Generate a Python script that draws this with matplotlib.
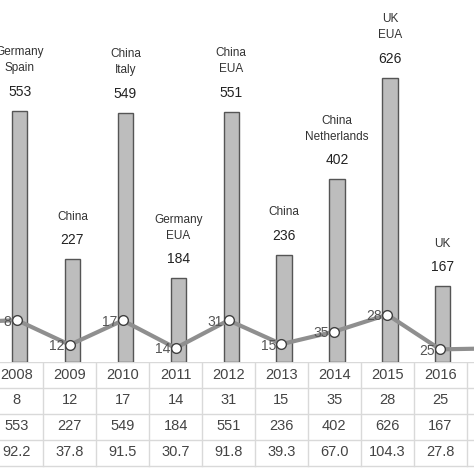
import matplotlib.pyplot as plt

plt.rcParams['font.family'] = ['Liberation Sans', 'DejaVu Sans']

years = [2007, 2008, 2009, 2010, 2011, 2012, 2013, 2014, 2015, 2016, 2017]
counts = [None, 8, 12, 17, 14, 31, 15, 35, 28, 25, None]
totals = [None, 553, 227, 549, 184, 551, 236, 402, 626, 167, None]
ratios = [87.0, 92.2, 37.8, 91.5, 30.7, 91.8, 39.3, 67.0, 104.3, 27.8, 30.0]
countries = [None, 'Germany\nSpain', 'China', 'China\nItaly', 'Germany\nEUA',
             'China\nEUA', 'China', 'China\nNetherlands', 'UK\nEUA', 'UK', None]
ratio_labels = [None, '92.2', '37.8', '91.5', '30.7', '91.8', '39.3', '67.0', '104.3', '27.8', None]

W = H = 474
fig = plt.figure(figsize=(4.74, 4.74), dpi=100)
base_px = 362
xl = (2007.68, 2016.64)

ax = fig.add_axes([0, (H - base_px) / H, 1, base_px / H])
ax.set_xlim(*xl)
ax.set_ylim(0, 797)
ax.axis('off')

bx = [y for y, t in zip(years, totals) if t is not None]
bv = [t for t in totals if t is not None]
ax.bar([x + 0.05 for x in bx], bv, width=0.29, color='#bdbdbd', edgecolor='#555555', linewidth=1)
ax.plot(years, ratios, color='#8f8f8f', lw=3, marker='o', ms=7,
        mfc='white', mec='#404040', mew=1, zorder=3, clip_on=True)

for y, t, c in zip(years, totals, countries):
    if t is None:
        continue
    ax.text(y + 0.05, t + 42, str(t), ha='center', va='center', fontsize=10, color='#222222')
    ax.text(y + 0.05, t + 80, c, ha='center', va='bottom', fontsize=8.5,
            color='#333333', linespacing=1.5)

for y, r, n in zip(years, ratios, counts):
    if n is None:
        continue
    ax.annotate(str(n), (y, r), xytext=(-4, -1), textcoords='offset points',
                ha='right', va='center', fontsize=10, color='#555555')

# data table
tab = fig.add_axes([0, 0, 1, (H - base_px) / H])
tab.set_xlim(*xl)
tab.set_ylim(H - base_px, 0)
tab.axis('off')
row_y = [13, 38, 64, 90]
grid_y = [0, 26, 52, 78, 104]
rows = [[str(y) if t is not None else None for y, t in zip(years, totals)],
        [str(n) if n is not None else None for n in counts],
        [str(t) if t is not None else None for t in totals],
        ratio_labels]
for ry, row in zip(row_y, rows):
    for y, s in zip(years, row):
        if s is not None:
            tab.text(y, ry, s, ha='center', va='center', fontsize=10.5, color='#444444')
for gy in grid_y:
    tab.axhline(gy, color='#d9d9d9', lw=1)
for y in years:
    tab.plot([y + 0.5, y + 0.5], [0, 104], color='#d9d9d9', lw=1)

fig.savefig('out.png', dpi=100)
